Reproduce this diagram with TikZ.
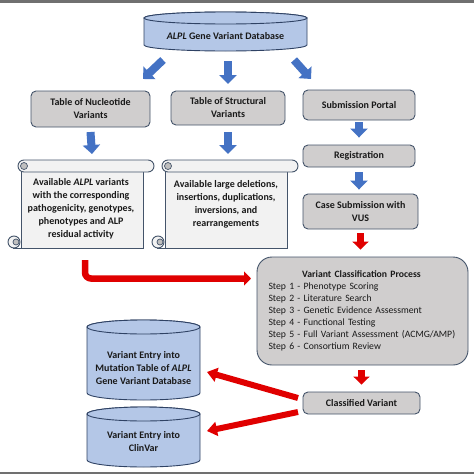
\documentclass[tikz,border=0pt]{standalone}
\usepackage{fontspec}
\setmainfont{Carlito}
\usetikzlibrary{arrows.meta,calc}
\definecolor{boxfill}{RGB}{208,206,206}
\definecolor{boxline}{RGB}{68,84,106}
\definecolor{cylfill}{RGB}{180,199,231}
\definecolor{cylline}{RGB}{47,66,100}
\definecolor{scrollfill}{RGB}{242,242,242}
\definecolor{curlfill}{RGB}{191,191,191}
\definecolor{arrblue}{RGB}{68,114,196}
\definecolor{arrred}{RGB}{224,0,0}
\definecolor{bandgray}{RGB}{112,112,112}
\tikzset{
  lbl/.style={font=\bfseries\fontsize{10}{13}\selectfont, align=center, inner sep=0pt, text=black!90},
  box/.style={lbl, draw=boxline, fill=boxfill, rounded corners=5pt, line width=0.9pt},
  cylshape/.style={draw=cylline, fill=cylfill, line width=0.9pt},
  scrollshape/.style={draw=boxline, fill=scrollfill, line width=0.9pt},
  bluearr/.style={draw=arrblue, line width=8pt, -{Triangle[width=17pt,length=9pt]}},
  redarr/.style={draw=arrred, line width=7pt, -{Triangle[width=16pt,length=8pt]}},
  reddiag/.style={draw=arrred, line width=6pt, -{Triangle[width=14pt,length=10pt]}},
}
\newcommand{\mycyl}[5]{% x1 x2 ytop ybot ry
  \pgfmathsetmacro{\rx}{(#2-#1)/2}
  \pgfmathsetmacro{\cx}{(#2+#1)/2}
  \filldraw[cylshape] (#1,#3+#5) -- (#1,#4-#5) arc[start angle=180,end angle=360,x radius=\rx pt,y radius=#5pt] -- (#2,#3+#5) arc[start angle=0,end angle=180,x radius=\rx pt,y radius=#5pt] -- cycle;
  \draw[cylshape] (\cx,#3+#5) ellipse[x radius=\rx pt, y radius=#5pt];
}
\newcommand{\myscroll}[1]{% x offset
  \begin{scope}[xshift=#1pt]
  \filldraw[scrollshape] (21,166) rectangle (143,248);
  \filldraw[scrollshape] (13,248) -- (143,248);
  \filldraw[scrollshape] (14,242) circle (6pt);
  \filldraw[draw=boxline, fill=curlfill, line width=0.7pt] (16,242) circle (3pt);
  \filldraw[scrollshape, rounded corners=6pt] (18,160) rectangle (154,172);
  \filldraw[draw=boxline, fill=curlfill, line width=0.7pt] (24,166) circle (3.5pt);
  \end{scope}
}
\begin{document}
\begin{tikzpicture}[x=1pt,y=-1pt]
\useasboundingbox (0,0) rectangle (474,474);
\fill[white] (0,0) rectangle (474,474);
\fill[bandgray] (0,0) rectangle (474,3);
\fill[bandgray] (0,472) rectangle (474,474);

% top database
\mycyl{144}{307}{12}{51}{6}
\node[lbl] (db) at (225.5,36) {\textit{ALPL} Gene Variant Database};

% row of boxes
\node[box, minimum width=119pt, minimum height=36pt] (tnv) at (90.5,109) {Table of Nucleotide\\Variants};
\node[box, minimum width=114pt, minimum height=34pt] (tsv) at (228,108) {Table of Structural\\Variants};
\node[box, minimum width=112pt, minimum height=30pt] (sp) at (359,105) {Submission Portal};
\node[box, minimum width=112pt, minimum height=22pt] (reg) at (359,156) {Registration};
\node[box, minimum width=115pt, minimum height=35pt] (cs) at (360.5,211.5) {Case Submission with\\VUS};

% scrolls
\myscroll{0}
\myscroll{144}
\node[lbl] (sc1) at (81,209) {Available \textit{ALPL} variants\\with the corresponding\\pathogenicity, genotypes,\\phenotypes and ALP\\residual activity};
\node[lbl] (sc2) at (226,204) {Available large deletions,\\insertions, duplications,\\inversions, and\\rearrangements};

% classification process
\node[draw=boxline, fill=boxfill, rounded corners=15pt, line width=0.9pt, minimum width=211pt, minimum height=108pt, text width=188pt, align=left, inner sep=0pt, font=\fontsize{9.7}{12}\selectfont, text=black!90] (vcp) at (362.5,311)
{\makebox[188pt][c]{\hspace*{-2pt}\bfseries Variant Classification Process}\\
Step 1 - Phenotype Scoring\\
Step 2 - Literature Search\\
Step 3 - Genetic Evidence Assessment\\
Step 4 - Functional Testing\\
Step 5 - Full Variant Assessment (ACMG/AMP)\\
Step 6 - Consortium Review};

\node[box, minimum width=117pt, minimum height=22pt] (cv) at (361.5,403) {Classified Variant};

% bottom databases
\mycyl{87}{200}{320}{400}{7}
\node[lbl] (mt) at (143.5,368) {Variant Entry into\\Mutation Table of \textit{ALPL}\\Gene Variant Database};
\mycyl{87}{200}{407}{467}{7}
\node[lbl] (cvr) at (143.5,442) {Variant Entry into\\ClinVar};

% coordinates for block arrows
\coordinate (dbL) at (163,60);
\coordinate (tnvT) at (143,79);
\coordinate (dbM) at (228,61);
\coordinate (tsvT) at (228,84);
\coordinate (dbR) at (294,60);
\coordinate (spT) at (311,79);
\coordinate (sc1T) at (92,154);
\coordinate (sc2T) at (228,154);
\coordinate (Lstart) at (85,260);
\coordinate (Lend) at (251,278.5);
\coordinate (cvL1) at (298,398);
\coordinate (mtR) at (207,372);
\coordinate (cvL2) at (298,412);
\coordinate (cvrR) at (207,431);

% blue arrows
\draw[bluearr] (dbL) -- (tnvT);
\draw[bluearr] (dbM) -- (tsvT);
\draw[bluearr] (dbR) -- (spT);
\draw[bluearr] (tnv.south |- 0,132) -- (sc1T);
\draw[bluearr] (tsv.south |- 0,132) -- (sc2T);
\draw[bluearr, shorten <=2pt, shorten >=7pt] (sp.south) -- (reg.north);
\draw[bluearr, shorten <=5pt, shorten >=4pt] (reg.south) -- (reg.south |- cs.north);

% red arrows
\draw[redarr, shorten <=4pt, shorten >=7pt] (cs.south) -- (cs.south |- vcp.north);
\draw[redarr, shorten <=5pt, shorten >=7pt] (vcp.south -| cv.north) -- (cv.north);
\draw[draw=arrred, line width=6.5pt, rounded corners=6pt, -{Triangle[width=14pt,length=7pt]}] (Lstart) |- (Lend);
\draw[reddiag] (cvL1) -- (mtR);
\draw[reddiag] (cvL2) -- (cvrR);
\end{tikzpicture}
\end{document}
